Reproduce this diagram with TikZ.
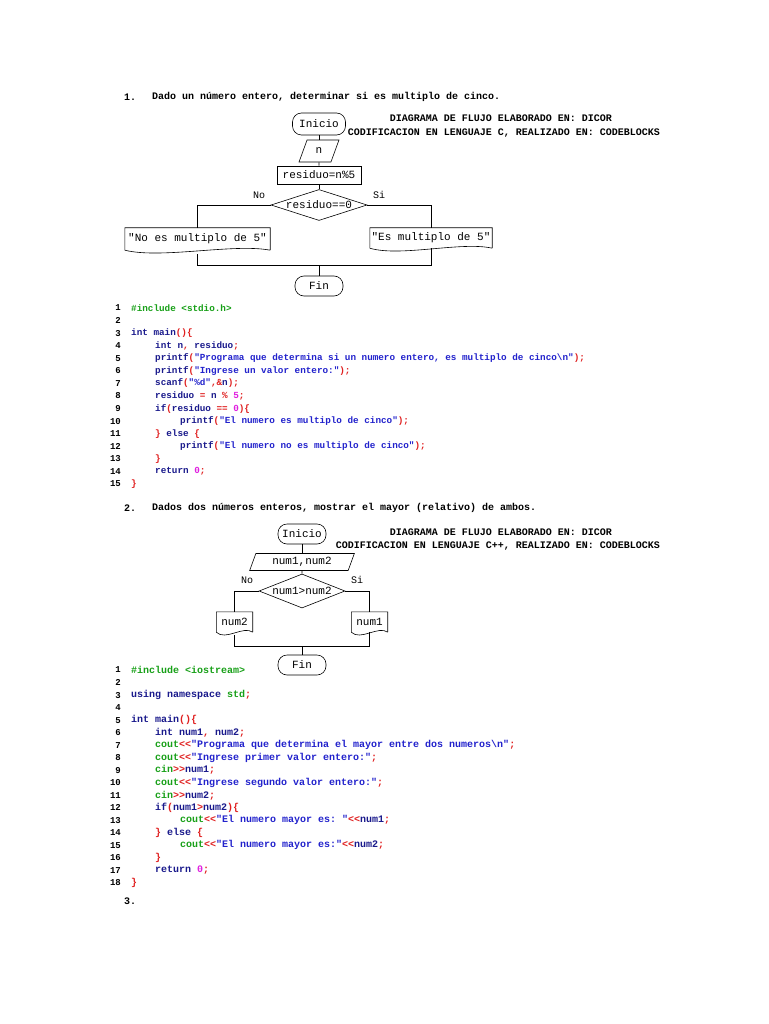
\documentclass[tikz,border=0pt]{standalone}
\usepackage{fontspec}
\setmainfont{Liberation Serif}
\setmonofont{Liberation Mono}
\usepackage{xcolor}
\usetikzlibrary{shapes.geometric,calc}
\definecolor{kw}{HTML}{1A1A8C}
\definecolor{st}{HTML}{2222CC}
\definecolor{gr}{HTML}{18A018}
\definecolor{rd}{HTML}{E02020}
\definecolor{mg}{HTML}{E020E0}
\newcommand{\K}[1]{\textcolor{kw}{#1}}
\newcommand{\Sg}[1]{\textcolor{st}{#1}}
\newcommand{\G}[1]{\textcolor{gr}{#1}}
\newcommand{\R}[1]{\textcolor{rd}{#1}}
\newcommand{\M}[1]{\textcolor{mg}{#1}}
\begin{document}
\begin{tikzpicture}[x=1pt,y=-1pt,
  lbl/.style={font=\ttfamily\fontsize{10}{12}\selectfont, inner sep=0pt},
  hdr/.style={font=\ttfamily\bfseries\fontsize{10}{12}\selectfont, inner sep=0pt},
  ttl/.style={font=\ttfamily\bfseries\fontsize{10}{12}\selectfont, inner sep=0pt, anchor=west},
  term/.style={draw, rounded corners=9pt, line width=0.6pt, font=\ttfamily\fontsize{11}{13}\selectfont, inner sep=0pt},
  io/.style={draw, trapezium, trapezium left angle=70, trapezium right angle=110, line width=0.6pt, font=\ttfamily\fontsize{11}{13}\selectfont, inner sep=1pt},
  proc/.style={draw, line width=0.6pt, font=\ttfamily\fontsize{11}{13}\selectfont, inner sep=0pt},
  dec/.style={draw, diamond, aspect=3.2, line width=0.6pt, font=\ttfamily\fontsize{11}{13}\selectfont, inner sep=0pt},
  doc/.style={font=\ttfamily\fontsize{11}{13}\selectfont, inner sep=0pt},
  ln/.style={font=\ttfamily\bfseries\fontsize{9}{10}\selectfont, inner sep=0pt, anchor=east},
  cd/.style={font=\ttfamily\bfseries\fontsize{9.3}{10}\selectfont, inner sep=0pt, anchor=west, text=kw},
  cdb/.style={font=\ttfamily\bfseries\fontsize{10}{10}\selectfont, inner sep=0pt, anchor=west, text=kw},
  wire/.style={line width=0.6pt}]
\useasboundingbox[fill=white] (0,0) rectangle (768,1024);

% ---------- Section 1 ----------
\node[ttl] (t1n) at (124,97) {1.};
\node[ttl] (t1) at (152,97) {Dado un número entero, determinar si es multiplo de cinco.};
\node[hdr] (h1a) at (501,118) {DIAGRAMA DE FLUJO ELABORADO EN: DICOR};
\node[hdr] (h1b) at (504,133) {CODIFICACION EN LENGUAJE C, REALIZADO EN: CODEBLOCKS};

\node[term, minimum width=53pt, minimum height=22pt] (ini1) at (319,124) {Inicio};
\node[io, minimum width=40pt, minimum height=16pt] (n1) at (319,151) {n};
\node[proc, minimum width=84pt, minimum height=18pt] (r1) at (319,175) {residuo=n\%5};
\node[dec, minimum width=96pt, minimum height=31pt] (d1) at (319,205) {residuo==0};
\node[lbl] (no1) at (259,195) {No};
\node[lbl] (si1) at (379,195) {Si};
\node[doc, minimum width=145pt, minimum height=22pt] (dl1) at (197.5,239) {"No es multiplo de 5"};
\node[doc, minimum width=122pt, minimum height=20pt] (dr1) at (431,238) {"Es multiplo de 5"};
\node[term, minimum width=48pt, minimum height=20pt] (fin1) at (319,286) {Fin};
\coordinate (j1) at (319,265);

\foreach \d in {dl1,dr1}{
  \draw[wire] (\d.south east) -- (\d.north east) -- (\d.north west) -- (\d.south west)
    .. controls ($(\d.south west)!0.5!(\d.south)+(0,9)$) and ($(\d.south)!0.5!(\d.south east)+(0,-7)$) .. (\d.south east);
}
\draw[wire] (ini1) -- (n1);
\draw[wire] (n1) -- (r1);
\draw[wire] (r1) -- (d1);
\draw[wire] (d1.west) -| (dl1.north);
\draw[wire] (d1.east) -| (dr1.north);
\draw[wire] ($(dl1.south)+(0,4)$) |- (j1);
\draw[wire] ($(dr1.south)+(0,0)$) |- (j1);
\draw[wire] (j1) -- (fin1);

% ---------- Code 1 ----------
\foreach \i [count=\k] in {1,...,15}{
  \node[ln] (la\k) at (121,{308+(\k-1)*12.57}) {\i};
}
\node[cd] (c1a) at (131,308) {\G{\#include <stdio.h>}};
\node[cd] (c1c) at (131,333.1) {int main\R{()\{}};
\node[cd] (c1d) at (155,345.7) {int n\R{,} residuo\R{;}};
\node[cd] (c1e) at (155,358.3) {printf\R{(}\Sg{"Programa que determina si un numero entero, es multiplo de cinco\textbackslash n"}\R{);}};
\node[cd] (c1f) at (155,370.9) {printf\R{(}\Sg{"Ingrese un valor entero:"}\R{);}};
\node[cd] (c1g) at (155,383.4) {scanf\R{(}\Sg{"\%d"}\R{,\&}n\R{);}};
\node[cd] (c1h) at (155,396) {residuo \R{=} n \R{\%} \M{5}\R{;}};
\node[cd] (c1i) at (155,408.6) {if\R{(}residuo \R{==} \M{0}\R{)\{}};
\node[cd] (c1j) at (180,421.1) {printf\R{(}\Sg{"El numero es multiplo de cinco"}\R{);}};
\node[cd] (c1k) at (155,433.7) {\R{\}} else \R{\{}};
\node[cd] (c1l) at (180,446.3) {printf\R{(}\Sg{"El numero no es multiplo de cinco"}\R{);}};
\node[cd] (c1m) at (155,458.8) {\R{\}}};
\node[cd] (c1n) at (155,471.4) {return \M{0}\R{;}};
\node[cd] (c1o) at (131,484) {\R{\}}};

% ---------- Section 2 ----------
\node[ttl] (t2n) at (124,508) {2.};
\node[ttl] (t2) at (152,508) {Dados dos números enteros, mostrar el mayor (relativo) de ambos.};
\node[hdr] (h2a) at (501,532) {DIAGRAMA DE FLUJO ELABORADO EN: DICOR};
\node[hdr] (h2b) at (498,546) {CODIFICACION EN LENGUAJE C++, REALIZADO EN: CODEBLOCKS};

\node[term, minimum width=48pt, minimum height=20pt] (ini2) at (302,534) {Inicio};
\node[io, minimum width=86pt, minimum height=17pt] (n2) at (302,562) {num1,num2};
\node[dec, minimum width=86pt, minimum height=34pt] (d2) at (302,591) {num1>num2};
\node[lbl] (no2) at (247,580) {No};
\node[lbl] (si2) at (357,580) {Si};
\node[doc, minimum width=36pt, minimum height=20pt] (dl2) at (234.5,622) {num2};
\node[doc, minimum width=36pt, minimum height=20pt] (dr2) at (369.5,622) {num1};
\node[term, minimum width=48pt, minimum height=20pt] (fin2) at (302,665) {Fin};
\coordinate (j2) at (302,646);

\foreach \d in {dl2,dr2}{
  \draw[wire] (\d.south east) -- (\d.north east) -- (\d.north west) -- (\d.south west)
    .. controls ($(\d.south west)!0.5!(\d.south)+(0,9)$) and ($(\d.south)!0.5!(\d.south east)+(0,-7)$) .. (\d.south east);
}
\draw[wire] (ini2) -- (n2);
\draw[wire] (n2) -- (d2);
\draw[wire] (d2.west) -| (dl2.north);
\draw[wire] (d2.east) -| (dr2.north);
\draw[wire] ($(dl2.south)+(0,3)$) |- (j2);
\draw[wire] (dr2.south) |- (j2);
\draw[wire] (j2) -- (fin2);

% ---------- Code 2 ----------
\foreach \i [count=\k] in {1,...,18}{
  \node[ln] (lb\k) at (121,{670+(\k-1)*12.53}) {\i};
}
\node[cdb] (c2a) at (131,670) {\G{\#include <iostream>}};
\node[cdb] (c2c) at (131,695.1) {using namespace \G{std}\R{;}};
\node[cdb] (c2e) at (131,720.1) {int main\R{()\{}};
\node[cdb] (c2f) at (155,732.7) {int num1\R{,} num2\R{;}};
\node[cdb] (c2g) at (155,745.2) {\G{cout}\R{<<}\Sg{"Programa que determina el mayor entre dos numeros\textbackslash n"}\R{;}};
\node[cdb] (c2h) at (155,757.7) {\G{cout}\R{<<}\Sg{"Ingrese primer valor entero:"}\R{;}};
\node[cdb] (c2i) at (155,770.2) {\G{cin}\R{>>}num1\R{;}};
\node[cdb] (c2j) at (155,782.8) {\G{cout}\R{<<}\Sg{"Ingrese segundo valor entero:"}\R{;}};
\node[cdb] (c2k) at (155,795.3) {\G{cin}\R{>>}num2\R{;}};
\node[cdb] (c2l) at (155,807.8) {if\R{(}num1\R{>}num2\R{)\{}};
\node[cdb] (c2m) at (180,820.4) {\G{cout}\R{<<}\Sg{"El numero mayor es: "}\R{<<}num1\R{;}};
\node[cdb] (c2n) at (155,832.9) {\R{\}} else \R{\{}};
\node[cdb] (c2o) at (180,845.4) {\G{cout}\R{<<}\Sg{"El numero mayor es:"}\R{<<}num2\R{;}};
\node[cdb] (c2p) at (155,857.9) {\R{\}}};
\node[cdb] (c2q) at (155,870.5) {return \M{0}\R{;}};
\node[cdb] (c2r) at (131,883) {\R{\}}};
\node[ttl] (t3) at (124,901) {3.};
\end{tikzpicture}
\end{document}
